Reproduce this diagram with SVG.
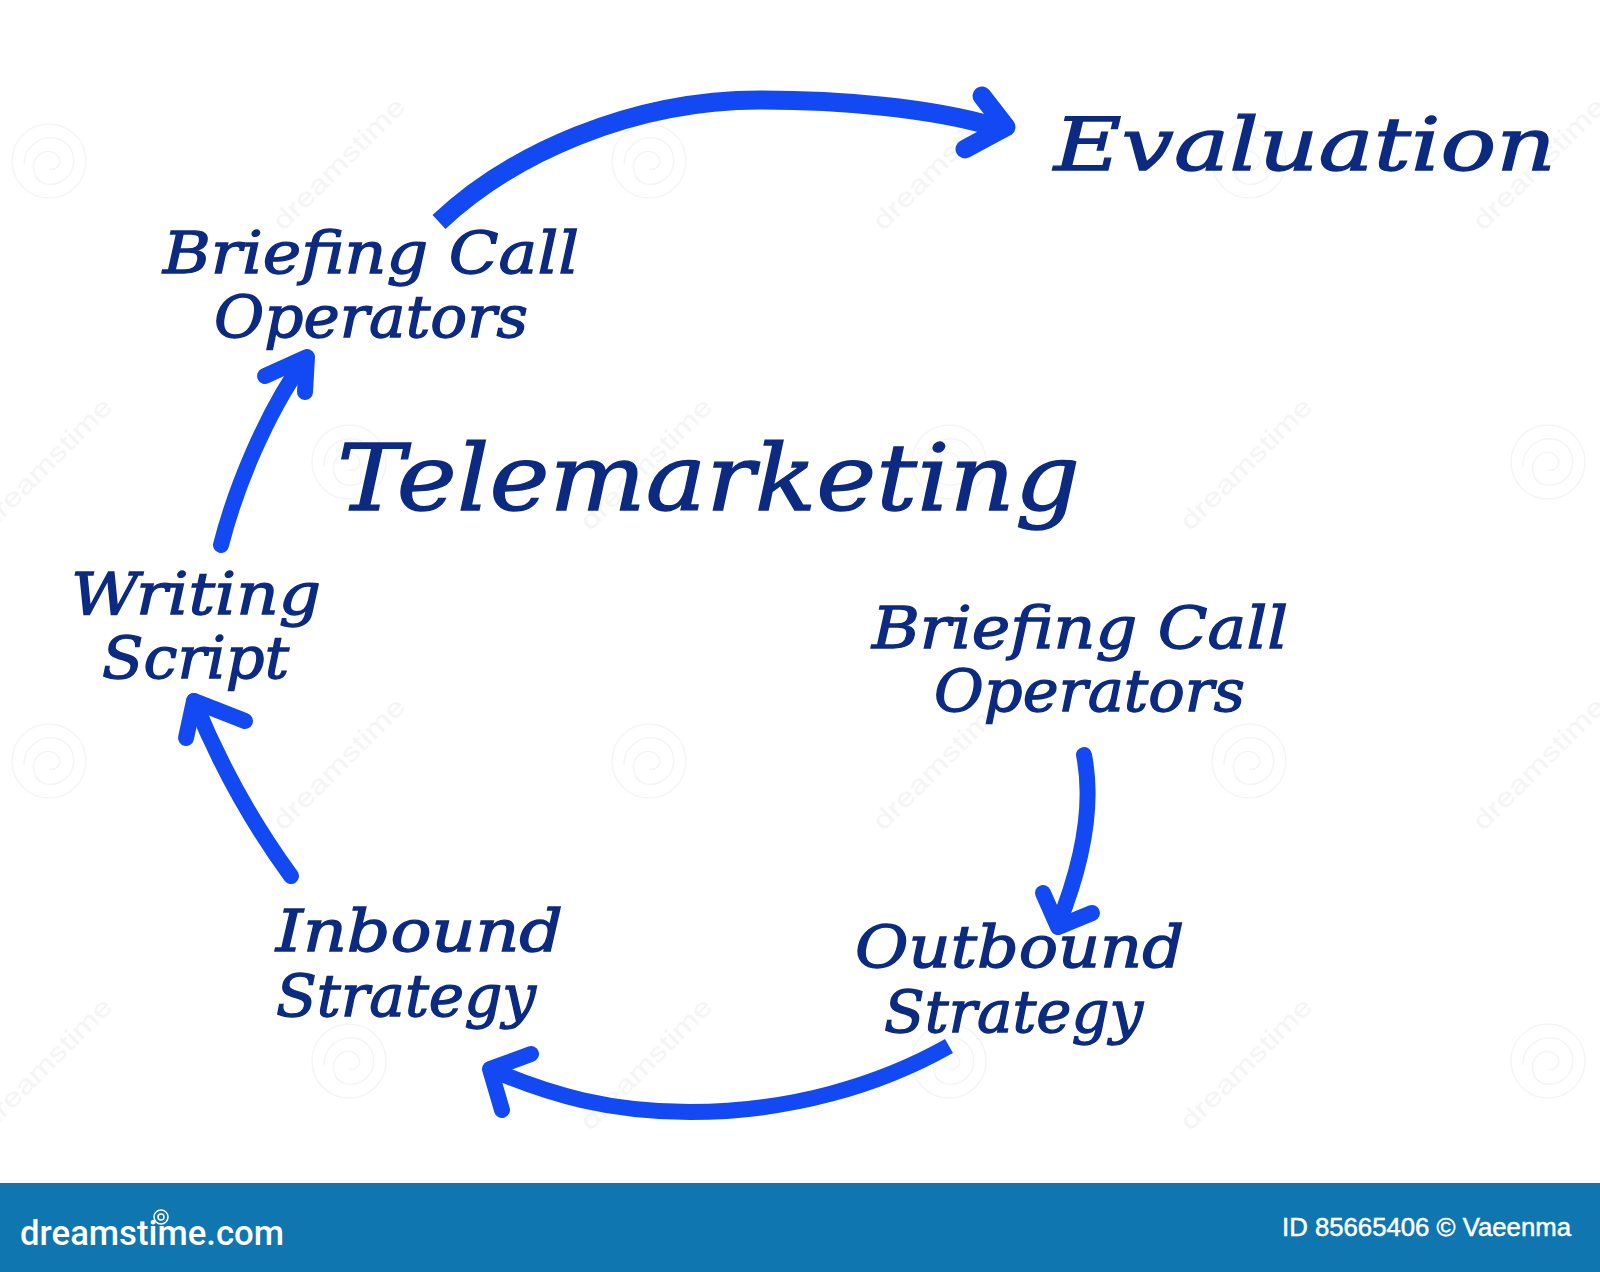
<svg xmlns="http://www.w3.org/2000/svg" width="1600" height="1272" viewBox="0 0 1600 1272">
<style>
.t{font-family:"DejaVu Serif","Liberation Serif",serif;font-style:italic;fill:#0b2a80;stroke:#0b2a80;stroke-width:1.3}
.lg{font-size:72px}.md{font-size:58px}
.c{fill:none;stroke:#1249f2;stroke-linecap:round;stroke-linejoin:round}
.wm{font-family:"Liberation Sans",sans-serif;font-size:26px;fill:#f5f5f5}
.sp{fill:none;stroke:#f5f5f5;stroke-width:1.5}
</style>
<defs>
<g id="spiral"><circle r="37"/><path d="M-25 4C-25-16-8-25 6-23C20-20 27-8 24 6C20 20 6 26-6 22C-16 18-18 4-12-4C-6-12 6-11 10-3C13 4 6 10 0 8"/></g>
<text id="mark" class="wm" text-anchor="middle" textLength="175" lengthAdjust="spacingAndGlyphs" transform="rotate(-45)">dreamstime</text>
</defs>
<rect width="1600" height="1272" fill="#fff"/>
<g id="watermarks">
<g class="sp">
<use href="#spiral" x="49" y="161"/><use href="#spiral" x="649" y="161"/><use href="#spiral" x="1249" y="161"/>
<use href="#spiral" x="349" y="462"/><use href="#spiral" x="949" y="462"/><use href="#spiral" x="1548" y="462"/>
<use href="#spiral" x="49" y="761"/><use href="#spiral" x="649" y="761"/><use href="#spiral" x="1249" y="761"/>
<use href="#spiral" x="349" y="1061"/><use href="#spiral" x="949" y="1061"/><use href="#spiral" x="1548" y="1061"/>
</g>
<g>
<use href="#mark" x="345" y="170"/><use href="#mark" x="945" y="170"/><use href="#mark" x="1545" y="170"/>
<use href="#mark" x="52" y="470"/><use href="#mark" x="652" y="470"/><use href="#mark" x="1252" y="470"/>
<use href="#mark" x="345" y="770"/><use href="#mark" x="945" y="770"/><use href="#mark" x="1545" y="770"/>
<use href="#mark" x="52" y="1070"/><use href="#mark" x="652" y="1070"/><use href="#mark" x="1252" y="1070"/>
</g>
</g>
<g id="connectors">
<g class="c" stroke-width="19">
<path stroke-linecap="butt" d="M439 222C510 155 630 100 760 100C840 100 930 108 992 126"/>
<path d="M982 96L1006 127L965 149"/>
</g>
<g class="c" stroke-width="16">
<path d="M221 545C235 490 265 415 305 359"/><path d="M265 376L307 357L305 392"/>
<path d="M291 876C250 820 218 760 194 701"/><path d="M186 738L194 701L245 721"/>
<path d="M1084 755C1095 810 1080 870 1058 925"/><path d="M1043 893L1058 927L1092 913"/>
<path stroke-linecap="butt" d="M949 1046C880 1085 790 1112 690 1112C610 1112 550 1095 490 1069"/><path d="M531 1054L490 1069L502 1110"/>
</g>
</g>
<g id="node-evaluation"><text class="t lg" x="1054" y="170" textLength="502" lengthAdjust="spacingAndGlyphs">Evaluation</text></g>
<g id="node-telemarketing"><text class="t" style="font-size:92px" x="337" y="510" textLength="743" lengthAdjust="spacingAndGlyphs">Telemarketing</text></g>
<g id="node-briefing-top"><text class="t md" x="163" y="273" textLength="416" lengthAdjust="spacingAndGlyphs">Briefing Call</text><text class="t md" x="214" y="337" textLength="314" lengthAdjust="spacingAndGlyphs">Operators</text></g>
<g id="node-writing"><text class="t md" x="71" y="614" textLength="250" lengthAdjust="spacingAndGlyphs">Writing</text><text class="t md" x="102" y="678" textLength="187" lengthAdjust="spacingAndGlyphs">Script</text></g>
<g id="node-briefing-right"><text class="t md" x="872" y="648" textLength="416" lengthAdjust="spacingAndGlyphs">Briefing Call</text><text class="t md" x="934" y="711" textLength="311" lengthAdjust="spacingAndGlyphs">Operators</text></g>
<g id="node-outbound"><text class="t md" x="855" y="967" textLength="329" lengthAdjust="spacingAndGlyphs">Outbound</text><text class="t md" x="884" y="1032" textLength="259" lengthAdjust="spacingAndGlyphs">Strategy</text></g>
<g id="node-inbound"><text class="t md" x="276" y="951" textLength="287" lengthAdjust="spacingAndGlyphs">Inbound</text><text class="t md" x="276" y="1016" textLength="260" lengthAdjust="spacingAndGlyphs">Strategy</text></g>
<g id="footer">
<rect y="1183" width="1600" height="89" fill="#0f76b0"/>
<text x="20" y="1245" font-family="Roboto,sans-serif" font-size="35" font-weight="500" fill="#fff" textLength="264" lengthAdjust="spacingAndGlyphs">dreamstime.com</text>
<g fill="none" stroke="#fff" stroke-width="1.5"><circle cx="161" cy="1217" r="7"/><circle cx="161" cy="1217" r="3"/></g>
<text x="1282" y="1236" font-family="'Liberation Sans',sans-serif" font-size="25" fill="#fff" stroke="#fff" stroke-width=".5" textLength="289" lengthAdjust="spacingAndGlyphs">ID 85665406 © Vaeenma</text>
</g>
</svg>
